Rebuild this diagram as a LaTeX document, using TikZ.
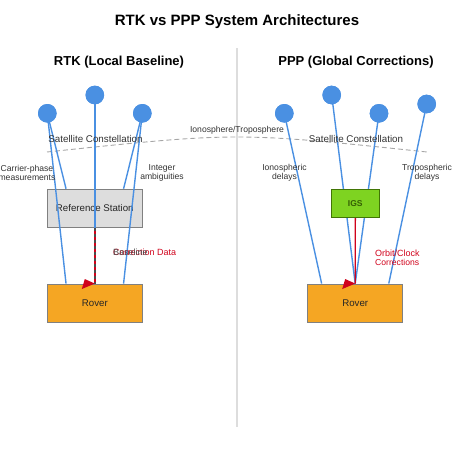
\documentclass[tikz,border=0pt]{standalone}
\usepackage{fontspec}
\setmainfont{Liberation Sans}
\usetikzlibrary{calc}
\definecolor{satblue}{HTML}{4A90E2}
\definecolor{refgray}{HTML}{DDDDDD}
\definecolor{roverorange}{HTML}{F5A623}
\definecolor{igsgreen}{HTML}{7ED321}
\definecolor{igsdark}{HTML}{417505}
\definecolor{corred}{HTML}{D0021B}
\tikzset{
    sat/.style={circle, fill=satblue, minimum size=18.6pt, inner sep=0pt},
    ray/.style={satblue, line width=1.4pt},
    boxnode/.style={draw=gray, line width=0.9pt, minimum width=95pt, minimum height=38pt, inner sep=0pt, font=\fontsize{9.7}{11}\selectfont, text=black!85},
    small/.style={font=\fontsize{8.6}{9.4}\selectfont, text=black!80, align=center},
    big/.style={font=\fontsize{9.8}{11}\selectfont, text=black!80}
}
\begin{document}
\begin{tikzpicture}[x=1pt, y=-1pt]
            \useasboundingbox (0,0) rectangle (474,474);
            \tikzstyle{every node}+=[inner sep=0pt]
                % titles
                \node (title) at (237,22) {\fontsize{15}{17}\selectfont\bfseries RTK vs PPP System Architectures};
                \node (rtk) at (119,62) {\fontsize{13}{15}\selectfont\bfseries RTK (Local Baseline)};
                \node (ppp) at (356,62) {\fontsize{13}{15}\selectfont\bfseries PPP (Global Corrections)};
                \draw [refgray, line width=1.5pt] (237,48) coordinate (dtop) -- (237,427) coordinate (dbot);
                % atmosphere
                \draw [gray!70, line width=0.9pt, dash pattern=on 5pt off 3pt] (47,152) .. controls (237,132) .. (427,152);
                \node [small] (atmo) at (237,130) {Ionosphere/Troposphere};
                % RTK side
                \node [boxnode, fill=refgray] (ref) at (94.8,208.2) {Reference Station};
                \node [boxnode, fill=roverorange] (rover) at (94.8,303) {Rover};
                \node [sat] (s1) at (47.3,113.3) {};
                \node [sat] (s2) at (94.8,95) {};
                \node [sat] (s3) at (142.3,113.3) {};
                \draw [ray] (s1.center) -- ($(ref.north west)!0.2!(ref.north east)$);
                \draw [ray] (s3.center) -- ($(ref.north west)!0.8!(ref.north east)$);
                \draw [ray] (s1.center) -- ($(rover.north west)!0.2!(rover.north east)$);
                \draw [ray] (s3.center) -- ($(rover.north west)!0.8!(rover.north east)$);
                \draw [ray] (s2.center) -- (rover.north);
                \node [sat] at (s1) {};
                \node [sat] at (s2) {};
                \node [sat] at (s3) {};
                \draw [corred, line width=1.4pt] (ref.south) -- (rover.north);
                \draw [black!70, line width=1.4pt, dash pattern=on 3pt off 3pt] (ref.south) -- (rover.north);
                \fill [corred] (rover.north) -- ++(-13,5.5) -- ++(3,-10) -- cycle;
                \node [small, anchor=west, text=corred] (cdata) at (113,252.5) {\fontsize{9}{10}\selectfont Correction Data};
                \node [small, anchor=west, text=black!70] (base) at (113,252.5) {\fontsize{9}{10}\selectfont Baseline};
                \node [big] (sc1) at (95.5,139) {Satellite Constellation};
                \node [small] (cp) at (27,173) {Carrier-phase\\measurements};
                \node [small] (ia) at (162,173) {Integer\\ambiguities};
                % PPP side
                \node [boxnode, fill=roverorange] (rover2) at (355.2,303) {Rover};
                \node [sat] (p1) at (284.3,113.3) {};
                \node [sat] (p2) at (331.7,95) {};
                \node [sat] (p3) at (379,113.3) {};
                \node [sat] (p4) at (426.7,104) {};
                \draw [ray] (p1.center) -- ($(rover2.north west)!0.15!(rover2.north east)$);
                \draw [ray] (p2.center) -- (rover2.north);
                \draw [ray] (p3.center) -- (rover2.north);
                \draw [ray] (p4.center) -- ($(rover2.north west)!0.85!(rover2.north east)$);
                \node [sat] at (p1) {};
                \node [sat] at (p2) {};
                \node [sat] at (p3) {};
                \node [sat] at (p4) {};
                \node [draw=igsdark, line width=0.9pt, fill=igsgreen, minimum width=47.3pt, minimum height=28.4pt] (igs) at (355.3,203.5) {\fontsize{8.5}{10}\selectfont\bfseries\color{igsdark!80!black} IGS};
                \draw [corred, line width=1.4pt] (igs.south) -- (rover2.north);
                \fill [corred] (rover2.north) -- ++(-13,5.5) -- ++(3,-10) -- cycle;
                \node [small, anchor=west, text=corred, align=left] (orb) at (375,257.5) {\fontsize{9}{9.6}\selectfont Orbit/Clock\\Corrections};
                \node [big] (sc2) at (356,139) {Satellite Constellation};
                \node [small] (iono) at (284.5,173) {Ionospheric\\delays};
                \node [small] (tropo) at (427,173) {Tropospheric\\delays};
            \end{tikzpicture}
\end{document}
